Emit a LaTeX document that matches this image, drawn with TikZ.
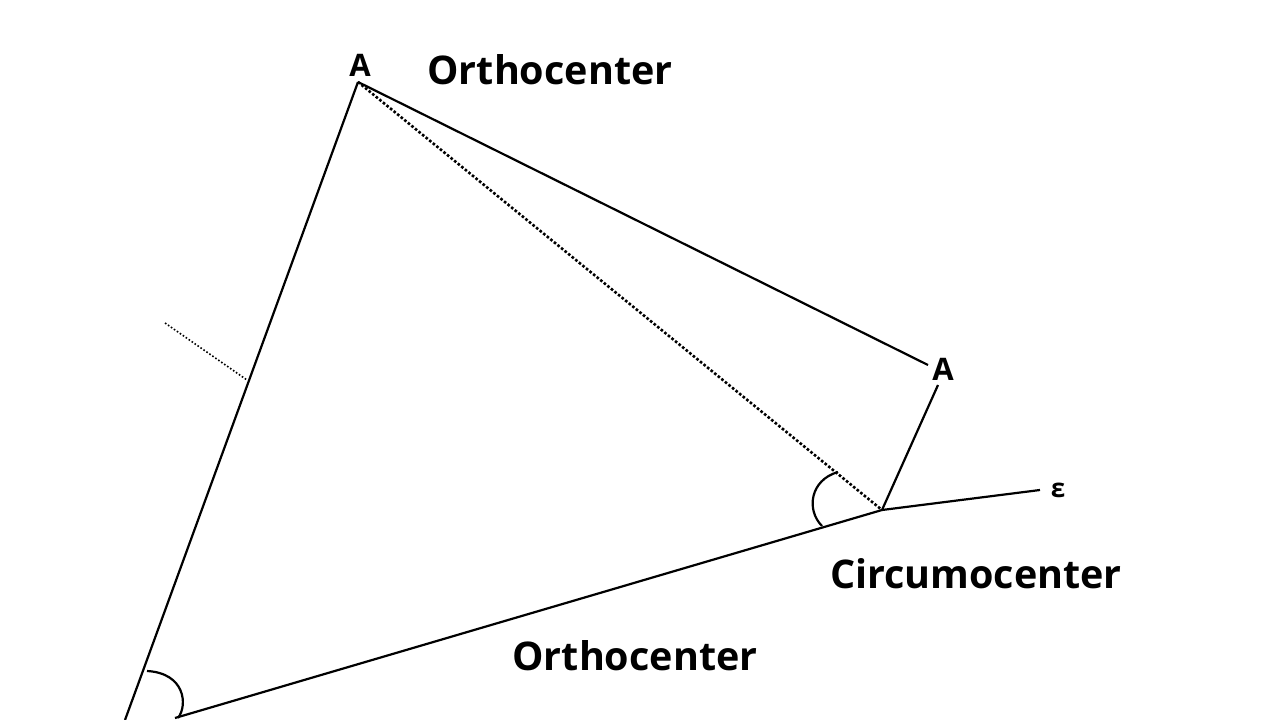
\documentclass[tikz,border=0pt]{standalone}
\usepackage{fontspec}
\setmainfont{Open Sans}
\begin{document}
\begin{tikzpicture}[x=1pt,y=-1pt,
    edge/.style={line width=2.2pt, black},
    altitude/.style={line width=2.6pt, dotted, black},
    lbl/.style={font=\bfseries\fontsize{39.5}{44}\selectfont, inner sep=0pt},
    vtx/.style={font=\bfseries\fontsize{31}{35}\selectfont, inner sep=0pt}]

    % frame
    \useasboundingbox (0,0) rectangle (1280,720);

    % vertices
    \coordinate (top) at (358,82);
    \coordinate (bl) at (125,720);
    \coordinate (br) at (175,718);
    \coordinate (foot) at (882,510);
    \coordinate (right) at (928,365);
    \coordinate (rlow) at (938,385);
    \coordinate (tail) at (1040,490);

    % sides
    \draw[edge] (top) -- (bl);
    \draw[edge] (br) -- (foot) -- (tail);
    \draw[edge] (top) -- (right);
    \draw[edge] (rlow) -- (foot);

    % altitudes
    \draw[altitude] (top) -- (foot);
    \coordinate (d1) at (165,323);
    \coordinate (d2) at (247,380);
    \draw[line width=1.6pt, dotted] (d1) -- (d2);

    % angle marks
    \draw[edge] (838,472) .. controls (810,480) and (806,510) .. (822,526);
    \draw[edge] (147,671) .. controls (185,673) and (188,705) .. (178,718);

    % labels
    \node[vtx] (lA1) at (360,65) {A};
    \node[vtx] (lA2) at (943,369) {A};
    \node[lbl] (ortho1) at (550,70) {Orthocenter};
    \node[lbl] (circ) at (976,574) {Circumocenter};
    \node[lbl] (ortho2) at (635,656) {Orthocenter};
    \node[font=\bfseries\fontsize{26}{30}\selectfont, inner sep=0pt] (mark) at (1058,490) {ε};
\end{tikzpicture}
\end{document}
